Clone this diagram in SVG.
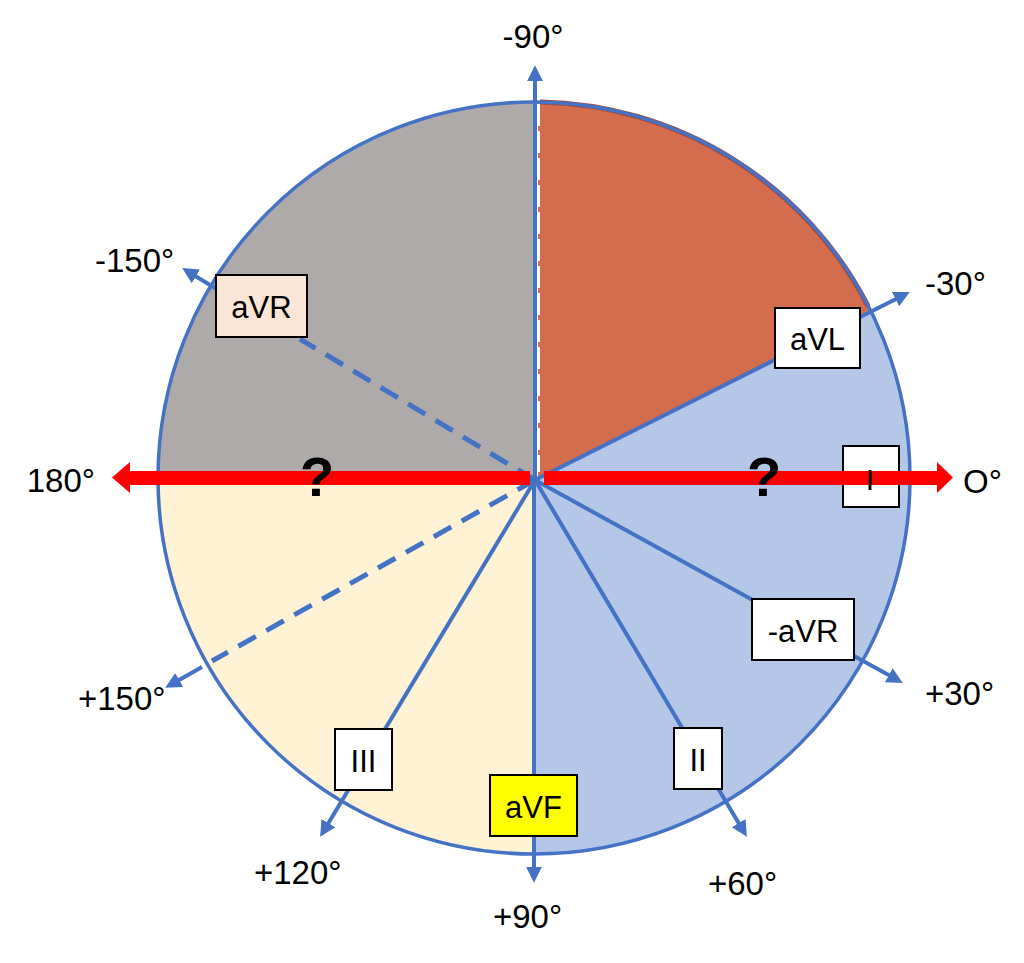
<svg xmlns="http://www.w3.org/2000/svg" width="1024" height="963" viewBox="0 0 1024 963">
<style>
.lbl{font-family:"Liberation Sans",Arial,sans-serif;font-size:33px;fill:#000}
.bt{font-family:"Liberation Sans",Arial,sans-serif;font-size:31px;fill:#000;text-anchor:middle}
.box{stroke:#000;stroke-width:2}
.ax{stroke:#4472C4;stroke-width:4;fill:none}
.axd{stroke:#4472C4;stroke-width:5;fill:none;stroke-dasharray:20 12}
.q{font-family:"Liberation Sans",Arial,sans-serif;font-size:56px;font-weight:bold;fill:#000;text-anchor:middle}
</style>
<defs>
<marker id="ah" viewBox="0 0 10 10" refX="7" refY="5" markerWidth="4" markerHeight="4" markerUnits="strokeWidth" orient="auto">
<path d="M0,0 L10,5 L0,10 z" fill="#4472C4"/>
</marker>
</defs>
<rect width="1024" height="963" fill="#fff"/>
<g id="sectors">
<path d="M534,478 L534,102 A376,376 0 0 0 158,478 Z" fill="#AEAAAA"/>
<path d="M534,478 L158,478 A376,376 0 0 0 534,854 Z" fill="#FFF2D5"/>
<path d="M534,478 L534,854 A376,376 0 0 0 870.4,309.9 Z" fill="#B4C7E7"/>
<path d="M538,478 L538,102 A376,376 0 0 1 870.4,309.9 Z" fill="#D46C4E"/>
<path d="M540,102 A376,376 0 0 1 868,306" fill="none" stroke="#A5463A" stroke-width="5"/>
<circle cx="534" cy="478" r="376" fill="none" stroke="#4472C4" stroke-width="3.5"/>
</g>
<g id="connectors">
<line class="ax" x1="535" y1="480" x2="535" y2="70" marker-end="url(#ah)"/>
<line x1="538.5" y1="104" x2="538.5" y2="472" stroke="#fff" stroke-width="3" stroke-dasharray="22 5"/>
<line class="ax" x1="535" y1="480" x2="905.5" y2="294.2" marker-end="url(#ah)"/>
<line class="ax" x1="535" y1="480" x2="898.6" y2="680.6" marker-end="url(#ah)"/>
<line class="ax" x1="535" y1="480" x2="744.4" y2="832.7" marker-end="url(#ah)"/>
<line class="ax" x1="534" y1="480" x2="534" y2="878" marker-end="url(#ah)"/>
<line class="ax" x1="535" y1="480" x2="322.6" y2="832.7" marker-end="url(#ah)"/>
<line class="axd" x1="535" y1="480" x2="212" y2="661"/>
<line class="ax" x1="202" y1="667" x2="169.4" y2="685.5" marker-end="url(#ah)"/>
<line class="axd" x1="535" y1="480" x2="300" y2="339"/>
<line class="ax" x1="220" y1="291" x2="186.3" y2="270.6" marker-end="url(#ah)"/>
</g>
<g id="node-aVR"><rect class="box" x="216" y="275" width="91" height="62" fill="#FBE5D6"/><text class="bt" x="261.5" y="318">aVR</text></g>
<g id="node-aVL"><rect class="box" x="775" y="308" width="85" height="60" fill="#fff"/><text class="bt" x="817.5" y="350">aVL</text></g>
<g id="node-I"><rect class="box" x="843" y="446" width="56" height="61" fill="#fff"/></g>
<g id="node-minus-aVR"><rect class="box" x="752" y="599" width="102" height="61" fill="#fff"/><text class="bt" x="803" y="642">-aVR</text></g>
<g id="node-III"><rect class="box" x="335" y="729" width="57" height="61" fill="#fff"/><text class="bt" x="363.5" y="772">III</text></g>
<g id="node-II"><rect class="box" x="674" y="728" width="48" height="61" fill="#fff"/><text class="bt" x="698" y="771">II</text></g>
<g id="node-aVF"><rect class="box" x="490" y="775" width="87" height="61" fill="#FFFF00"/><text class="bt" x="533.5" y="818">aVF</text></g>
<g id="red-arrows">
<polygon points="530,471 130,471 130,462 112,477.5 130,493 130,485 530,485" fill="#FF0000"/>
<polygon points="544,471 937,471 937,462 953,477.5 937,493 937,485 544,485" fill="#FF0000"/>
</g>
<g id="questions">
<text class="q" x="317" y="496">?</text>
<text class="q" x="764" y="496">?</text>
<text class="bt" x="870" y="490" style="font-size:30px">I</text>
</g>
<g id="degree-labels">
<text class="lbl" x="533" y="48" text-anchor="middle">-90°</text>
<text class="lbl" x="925" y="295">-30°</text>
<text class="lbl" x="963" y="493">O°</text>
<text class="lbl" x="95" y="492" text-anchor="end">180°</text>
<text class="lbl" x="95" y="272">-150°</text>
<text class="lbl" x="78" y="710">+150°</text>
<text class="lbl" x="925" y="705">+30°</text>
<text class="lbl" x="254" y="884">+120°</text>
<text class="lbl" x="493" y="928">+90°</text>
<text class="lbl" x="708" y="895">+60°</text>
</g>
</svg>
